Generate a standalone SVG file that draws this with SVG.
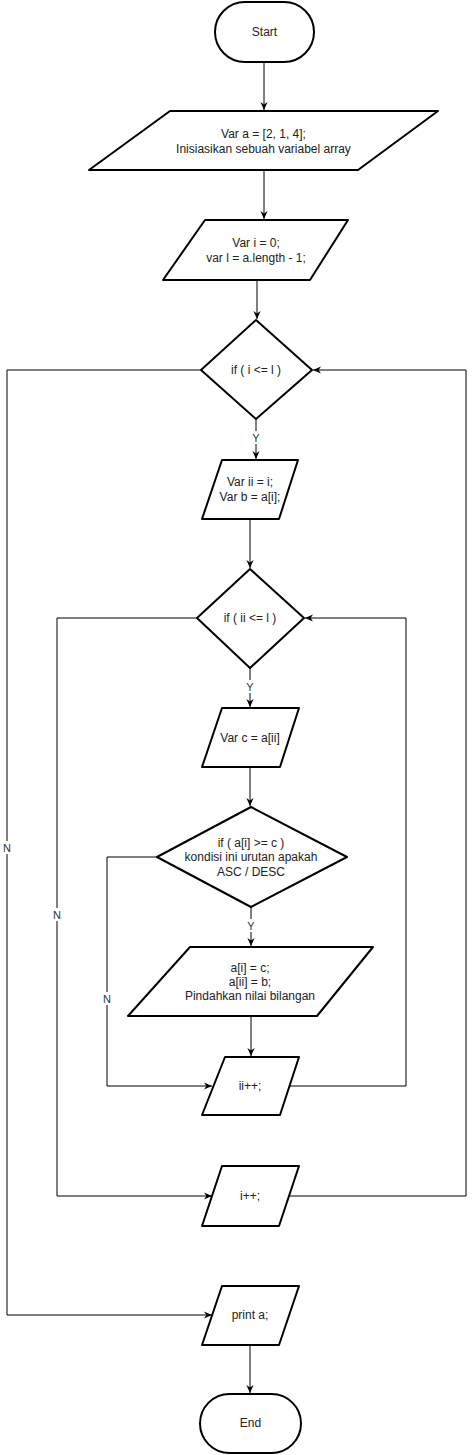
<svg xmlns="http://www.w3.org/2000/svg" width="474" height="1455" viewBox="0 0 474 1455">
<defs>
<marker id="arr" viewBox="0 0 10 10" refX="10" refY="5" markerWidth="8" markerHeight="8" markerUnits="userSpaceOnUse" orient="auto">
<path d="M0,0.5 L10,5 L0,9.5 L3,5 z" fill="#000"/>
</marker>
<style>
.shape{fill:#fff;stroke:#000;stroke-width:2;stroke-linejoin:round}
.t{font-family:"Liberation Sans",Arial,sans-serif;font-size:12px;fill:#222;text-anchor:middle}
.lbl{font-family:"Liberation Sans",Arial,sans-serif;font-size:11px;fill:#333;text-anchor:middle}
.c{fill:none;stroke:#000;stroke-width:1}
.ca{fill:none;stroke:#000;stroke-width:1;marker-end:url(#arr)}
</style>
</defs>
<rect width="474" height="1455" fill="#fff"/>
<g id="connectors">
<path class="ca" d="M264,62 V110"/>
<path class="ca" d="M264,170 V219"/>
<path class="ca" d="M257,280 V319"/>
<path class="ca" d="M256,419 V459"/>
<path class="ca" d="M250,519 V568"/>
<path class="ca" d="M250,668 V707"/>
<path class="ca" d="M250,767 V806"/>
<path class="ca" d="M251,907 V946"/>
<path class="ca" d="M251,1016 V1056"/>
<path class="ca" d="M157,857 H107 V1086 H212"/>
<path class="ca" d="M290,1086 H406 V618 H305"/>
<path class="ca" d="M197,618 H57 V1196 H212"/>
<path class="ca" d="M289,1196 H466 V370 H313"/>
<path class="ca" d="M201,370 H7 V1315 H212"/>
<path class="ca" d="M250,1345 V1393"/>
<rect x="251" y="431" width="10" height="13" fill="#fff"/>
<text class="lbl" x="256" y="442">Y</text>
<rect x="245" y="680" width="10" height="13" fill="#fff"/>
<text class="lbl" x="250" y="691">Y</text>
<rect x="246" y="919" width="10" height="13" fill="#fff"/>
<text class="lbl" x="251" y="930">Y</text>
<rect x="102" y="992" width="10" height="13" fill="#fff"/>
<text class="lbl" x="107" y="1003">N</text>
<rect x="52" y="908" width="10" height="13" fill="#fff"/>
<text class="lbl" x="57" y="919">N</text>
<rect x="2" y="841" width="10" height="13" fill="#fff"/>
<text class="lbl" x="7" y="852">N</text>
</g>
<g id="start">
<rect class="shape" x="215" y="2" width="99" height="60" rx="30" ry="30"/>
<text class="t" x="264.5" y="36">Start</text>
</g>
<g id="init-array">
<polygon class="shape" points="170,111 438,111 358,170 89,170"/>
<text class="t" x="263.5" y="138">Var a = [2, 1, 4];</text>
<text class="t" x="263.5" y="153">Inisiasikan sebuah variabel array</text>
</g>
<g id="init-i">
<polygon class="shape" points="205,220 348,220 310,280 163,280"/>
<text class="t" x="256" y="247">Var i = 0;</text>
<text class="t" x="256" y="262">var l = a.length - 1;</text>
</g>
<g id="cond-i">
<polygon class="shape" points="256,320 312,370 256,419 201,370"/>
<text class="t" x="256" y="374">if ( i &lt;= l )</text>
</g>
<g id="set-ii">
<polygon class="shape" points="222,460 298,460 279,519 202,519"/>
<text class="t" x="250" y="486">Var ii = i;</text>
<text class="t" x="250" y="501">Var b = a[i];</text>
</g>
<g id="cond-ii">
<polygon class="shape" points="250,569 304,618 250,668 197,618"/>
<text class="t" x="250" y="622">if ( ii &lt;= l )</text>
</g>
<g id="set-c">
<polygon class="shape" points="222,708 299,708 280,767 202,767"/>
<text class="t" x="250" y="742">Var c = a[ii]</text>
</g>
<g id="cond-compare">
<polygon class="shape" points="251,807 347,857 251,907 157,857"/>
<text class="t" x="251" y="847">if ( a[i] &gt;= c )</text>
<text class="t" x="251" y="861">kondisi ini urutan apakah</text>
<text class="t" x="251" y="876">ASC / DESC</text>
</g>
<g id="swap">
<polygon class="shape" points="190,947 373,947 317,1016 128,1016"/>
<text class="t" x="250" y="972">a[i] = c;</text>
<text class="t" x="250" y="986">a[ii] = b;</text>
<text class="t" x="250" y="1000">Pindahkan nilai bilangan</text>
</g>
<g id="inc-ii">
<polygon class="shape" points="225,1057 299,1057 280,1115 202,1115"/>
<text class="t" x="250" y="1090">ii++;</text>
</g>
<g id="inc-i">
<polygon class="shape" points="222,1166 299,1166 279,1226 202,1226"/>
<text class="t" x="250" y="1200">i++;</text>
</g>
<g id="print">
<polygon class="shape" points="222,1286 299,1286 279,1345 202,1345"/>
<text class="t" x="250" y="1319">print a;</text>
</g>
<g id="end">
<rect class="shape" x="200" y="1394" width="101" height="59" rx="29.5" ry="29.5"/>
<text class="t" x="250.5" y="1427">End</text>
</g>
</svg>
